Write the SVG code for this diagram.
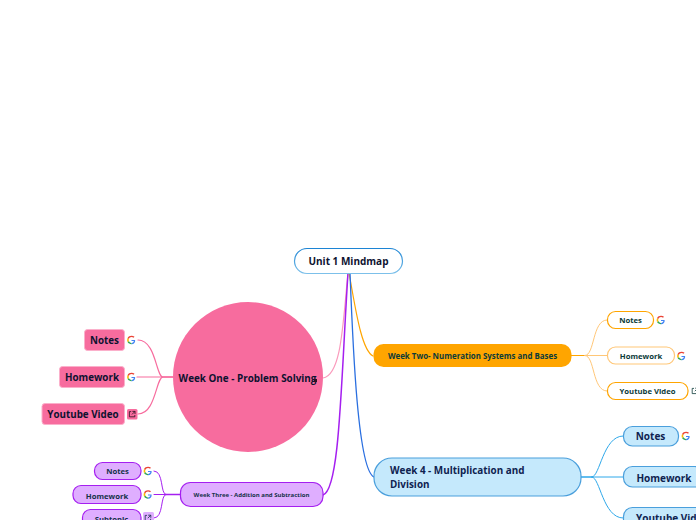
<svg xmlns="http://www.w3.org/2000/svg" width="696" height="520" viewBox="0 0 696 520">
<style>
text{font-family:"Open Sans","Noto Sans","Liberation Sans",sans-serif;font-weight:700;text-anchor:middle}
.c{fill:none;stroke-linecap:round}
.p{stroke:#f76c9e}.pl{stroke:#fa9abc}.v{stroke:#a51ff0}.o{stroke:#ffa500}.ol{stroke:#ffc778}.b{stroke:#2ea8ea}
.pk{fill:#f76c9e;stroke:#fbb0cb;stroke-width:1}
.vi{fill:#dfaeff;stroke:#a51ff0;stroke-width:1.2}
.or{fill:#fff;stroke:#ffa500;stroke-width:1.2}
.bl{fill:#c5e9fc;stroke:#4a9fdc;stroke-width:1.2}
.dk{fill:#0d1230}.dg{fill:#15324a}.dn{fill:#0c3b3a}.nv{fill:#0f2350}
</style>
<defs>
<g id="g"><path d="M3.6-.1H0V1.1H2.4C2.1 2.3 1.2 2.9 0 2.9V4.2C2.5 4.2 4 2.4 3.6-.1Z" fill="#4285f4"/><path d="M0 2.9C-1.2 2.9-2.2 2.2-2.6 1.1L-3.9 2.1C-3.2 3.4-1.7 4.2 0 4.2Z" fill="#34a853"/><path d="M-2.6 1.1C-2.9.4-2.9-.4-2.6-1.1L-3.9-2.1C-4.5-.8-4.5.8-3.9 2.1Z" fill="#fbbc05"/><path d="M-2.6-1.1C-2.2-2.2-1.2-2.9 0-2.9C.8-2.9 1.5-2.6 2-2.2L3-3.2C2.2-3.9 1.2-4.2 0-4.2C-1.7-4.2-3.2-3.4-3.9-2.1Z" fill="#ea4335"/></g>
<path id="ln" d="M-1 -2.6H-2.8V2.6H2.6V.8M.2-2.8H2.8V-.2M2.8-2.8L-.2.2" fill="none" stroke-width=".8"/>
<linearGradient id="rg" x1="0" y1="0" x2="0" y2="1"><stop offset="0" stop-color="#1c84d4"/><stop offset="1" stop-color="#7cc0ea"/></linearGradient>
</defs>

<g id="connectors">
<path class="c pl" stroke-width="1.2" d="M348 273C343 320 342 375 323 378"/>
<path class="c v" stroke-width="1.5" d="M348 273C341 380 340 490 323 495"/>
<path class="c o" stroke-width="1.2" d="M349 273C355 305 361 350 373 356"/>
<path stroke="#2a6fe0" class="c" stroke-width="1.3" d="M350 273C353 350 358 470 374 477"/>
<path class="c p" stroke-width="1.2" d="M173 377H163C156 377 156 340 138 340"/>
<path class="c p" stroke-width="1.2" d="M173 377H137"/>
<path class="c p" stroke-width="1.2" d="M173 377H163C156 377 156 414 138 414"/>
<path class="c v" stroke-width="1.6" d="M180 494.500H166"/>
<path class="c v" stroke-width="1" d="M166 494.500C160 494.500 164 471 154 471"/>
<path class="c v" stroke-width="1" d="M166 494.500H154"/>
<path class="c v" stroke-width="1" d="M166 494.500C160 494.500 164 518 154 518"/>
<path class="c o" stroke-width="1" d="M571 355.500H585"/>
<path class="c ol" stroke-width="1" d="M585 355.500C595 355.500 592 320 607 320"/>
<path class="c ol" stroke-width="1" d="M585 355.500H607"/>
<path class="c ol" stroke-width="1" d="M585 355.500C595 355.500 592 391 607 391"/>
<path class="c b" stroke-width="1.600" d="M581 477H592"/>
<path class="c b" stroke-width="1" d="M592 477C600 477 603 436 623 436"/>
<path class="c b" stroke-width="1" d="M592 477H623"/>
<path class="c b" stroke-width="1" d="M592 477C600 477 603 518 623 518"/>
</g>

<g id="root"><rect x="294.500" y="248.500" width="108" height="25" rx="12.500" fill="#fff" stroke="url(#rg)" stroke-width="1.200"/><text x="348.500" y="265" font-size="10" class="dk">Unit 1 Mindmap</text></g>

<g id="week-one"><circle cx="248" cy="377" r="75" fill="#f76c9e"/><text x="247.500" y="382" font-size="9.900" class="dk">Week One - Problem Solving</text><rect x="314" y="379" width="3" height="3" fill="#2a1020"/></g>
<g id="w1-notes"><rect class="pk" x="84.500" y="329.500" width="40" height="21" rx="3"/><text x="104.500" y="344" font-size="9.800" class="dk">Notes</text><use href="#g" x="131.500" y="340"/></g>
<g id="w1-homework"><rect class="pk" x="59.500" y="366.500" width="65" height="21" rx="3"/><text x="92" y="381" font-size="9.800" class="dk">Homework</text><use href="#g" x="131.500" y="377"/></g>
<g id="w1-youtube"><rect class="pk" x="42" y="403.500" width="82.500" height="21" rx="3"/><text x="83" y="418" font-size="9.800" class="dk">Youtube Video</text><rect x="127" y="409" width="10.500" height="10.500" rx="1.500" fill="#f76c9e"/><use href="#ln" x="132.200" y="414.200" stroke="#2a1020"/></g>

<g id="week-three"><rect class="vi" x="180.500" y="482.500" width="142.500" height="24" rx="10"/><text x="251.500" y="497" font-size="6" class="dg">Week Three - Addition and Subtraction</text></g>
<g id="w3-notes"><rect class="vi" x="94.500" y="462.500" width="46.500" height="17" rx="8"/><text x="117.500" y="474" font-size="7.700" class="dg">Notes</text><use href="#g" x="148" y="471"/></g>
<g id="w3-homework"><rect class="vi" x="73" y="485.500" width="68" height="18" rx="8"/><text x="107" y="499" font-size="7.700" class="dg">Homework</text><use href="#g" x="148" y="494.500"/></g>
<g id="w3-subtopic"><rect class="vi" x="82.500" y="509.500" width="58.500" height="18" rx="8"/><text x="111.500" y="521.500" font-size="7.700" class="dg">Subtopic</text><rect x="143" y="512" width="11" height="11" rx="1.500" fill="#dfaeff"/><use href="#ln" x="148" y="518" stroke="#15324a"/></g>

<g id="week-two"><rect x="373.500" y="344" width="198" height="23" rx="10" fill="#ffa500"/><text x="472.500" y="359" font-size="7.900" class="dn">Week Two- Numeration Systems and Bases</text></g>
<g id="w2-notes"><rect class="or" x="607.500" y="311.500" width="46" height="17" rx="8"/><text x="630.500" y="323" font-size="7.700" class="dn">Notes</text><use href="#g" x="661" y="320"/></g>
<g id="w2-homework"><rect x="607.500" y="347" width="67" height="17" rx="8" fill="#fff" stroke="#ffc778" stroke-width="1.200"/><text x="641" y="359" font-size="7.700" class="dn">Homework</text><use href="#g" x="681.500" y="356"/></g>
<g id="w2-youtube"><rect class="or" x="607.500" y="382.500" width="80.500" height="17" rx="8"/><text x="647.500" y="394" font-size="7.700" class="dn">Youtube Video</text><use href="#ln" x="695" y="391" stroke="#0c3b3a"/></g>

<g id="week-four"><rect class="bl" x="374" y="458" width="207" height="38" rx="18"/><text x="390" y="474" font-size="9.900" class="nv" style="text-anchor:start">Week 4 - Multiplication and</text><text x="390" y="488" font-size="9.900" class="nv" style="text-anchor:start">Division</text></g>
<g id="w4-notes"><rect class="bl" x="623.500" y="426.500" width="55" height="19.500" rx="9"/><text x="650.500" y="440" font-size="10" class="nv">Notes</text><use href="#g" x="686" y="436"/></g>
<g id="w4-homework"><rect class="bl" x="623.500" y="466.500" width="80" height="20.500" rx="9"/><text x="664" y="482" font-size="10" class="nv">Homework</text></g>
<g id="w4-youtube"><rect class="bl" x="623.500" y="507.500" width="100" height="22" rx="9"/><text x="636" y="522" font-size="10" class="nv" style="text-anchor:start">Youtube Video</text></g>
</svg>
